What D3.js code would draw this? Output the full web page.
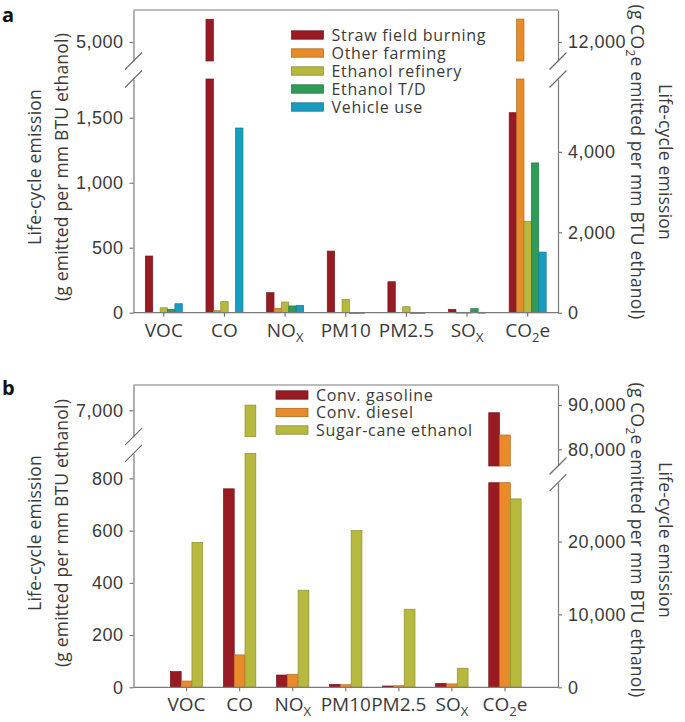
<!DOCTYPE html>
<html lang="en">
<head>
<meta charset="UTF-8">
<title>Life-cycle emissions</title>
<script src="https://d3js.org/d3.v7.min.js"></script>
<style>
    body {
        margin: 0;
        background: #fff;
    }
    svg {
        font-family: 'Open Sans', sans-serif;
        font-weight: 400;
    }
    .axis path, .axis line {
        stroke: #7a7a7a;
        stroke-width: 1.2px;
    }
    .axis text {
        font-size: 18px;
        fill: #3a3a3a;
        letter-spacing: 0.5px;
    }
    .title {
        font-size: 17.5px;
        fill: #3a3a3a;
        letter-spacing: 0.2px;
    }
    .legend text {
        font-size: 16px;
        fill: #3a3a3a;
        letter-spacing: 0.7px;
    }
</style>
</head>
<body>
<script>
// categories (subscript parts as separate pieces)
const categories = ["VOC", "CO", "NOX", "PM10", "PM2.5", "SOX", "CO2e"];
const categoryLabels = [["VOC"], ["CO"], ["NO", "X"], ["PM10"], ["PM2.5"], ["SO", "X"], ["CO", "2", "e"]];
const rightAxisCategory = "CO2e";

// panel a series
const seriesA = ["Straw field burning", "Other farming", "Ethanol refinery", "Ethanol T/D", "Vehicle use"];
const strawBurning    = [436, 5175, 154, 474, 238, 26, 4975];
const otherFarming    = [0, 15, 34, 0, 0, 3, 12570];
const ethanolRefinery = [38, 85, 82, 103, 46, 3, 2275];
const ethanolTD       = [26, 0, 52, 2, 2, 31, 3725];
const vehicleUse      = [69, 1421, 57, 2, 2, 3, 1508];

// panel b series
const seriesB = ["Conv. gasoline", "Conv. diesel", "Sugar-cane ethanol"];
const convGasoline = [60, 760, 47, 11, 5, 15, 88260];
const convDiesel   = [24, 124, 50, 10, 6, 13, 83230];
const sugarCane    = [555, 7020, 372, 600, 299, 73, 25850];

// tick values
const leftTicksA = [0, 500, 1000, 1500], leftTicksAUp = [5000];
const rightTicksA = [0, 2000, 4000], rightTicksAUp = [12000];
const leftTicksB = [0, 200, 400, 600, 800], leftTicksBUp = [7000];
const rightTicksB = [0, 10000, 20000], rightTicksBUp = [80000, 90000];

const colorsA = ["#981b24", "#e88b2b", "#b7b83e", "#2e9b58", "#1a9cc0"];
const colorsB = ["#981b24", "#e88b2b", "#b7b83e"];

const svg = d3.select("body").append("svg")
    .attr("width", 685)
    .attr("height", 722);

function fmt(d) { return d3.format(",")(d); }

function drawPanel(cfg) {
    const g = svg.append("g");
    const x = d3.scaleBand().domain(categories)
        .range([cfg.left, cfg.right]).paddingInner(0).paddingOuter(cfg.outer);
    const groupW = x.bandwidth() * 0.61;
    const xs = d3.scaleBand().domain(cfg.series).range([0, groupW]);

    const L = {
        lo: d3.scaleLinear().domain(cfg.leftLo).range([cfg.bottom, cfg.breakLo[0]]),
        up: d3.scaleLinear().domain(cfg.leftUp).range([cfg.breakUp[0], cfg.top])
    };
    const R = {
        lo: d3.scaleLinear().domain(cfg.rightLo).range([cfg.bottom, cfg.breakLo[1]]),
        up: d3.scaleLinear().domain(cfg.rightUp).range([cfg.breakUp[1], cfg.top])
    };

    // top frame line
    g.append("line")
        .attr("x1", cfg.left).attr("x2", cfg.right)
        .attr("y1", cfg.top).attr("y2", cfg.top)
        .attr("stroke", "#7a7a7a").attr("stroke-width", 1.2);

    // bars
    cfg.series.forEach((s, si) => {
        const vals = cfg.values[si];
        categories.forEach((c, ci) => {
            const v = vals[ci];
            if (!v) return;
            const sc = c === rightAxisCategory ? R : L;
            const bx = x(c) + (x.bandwidth() - groupW) / 2 + xs(s);
            const col = cfg.colors[si];
            const loMax = sc.lo.domain()[1];
            const parts = v <= loMax ? [[sc.lo, 0, v]] : [[sc.lo, 0, loMax], [sc.up, sc.up.domain()[0], v]];
            parts.forEach(p => {
                const y0 = p[0](p[1]), y1 = p[0](p[2]);
                g.append("rect")
                    .attr("x", bx).attr("width", xs.bandwidth())
                    .attr("y", y1).attr("height", Math.max(0.8, y0 - y1))
                    .attr("fill", col)
                    .attr("stroke", d3.color(col).darker(0.7))
                    .attr("stroke-width", 0.7);
            });
        });
    });

    // x axis
    const xa = g.append("g").attr("class", "axis")
        .attr("transform", `translate(0,${cfg.bottom})`)
        .call(d3.axisBottom(x).tickSize(4).tickSizeOuter(0).tickFormat(""));
    xa.select(".domain").attr("d", `M${cfg.left},0H${cfg.right}`);

    categories.forEach((c, i) => {
        const t = g.append("text")
            .attr("x", x(c) + x.bandwidth() / 2)
            .attr("y", cfg.bottom + 24)
            .attr("text-anchor", "middle")
            .attr("font-size", 19)
            .attr("fill", "#3a3a3a");
        categoryLabels[i].forEach((part, pi) => {
            const sub = (pi === 1 && categoryLabels[i].length > 1);
            const ts = t.append("tspan").text(part);
            if (sub) ts.attr("font-size", 13).attr("dy", 5);
            else if (pi === 2) ts.attr("dy", -5);
        });
    });

    // y axes (two segments each)
    [[L.lo, cfg.leftTicks], [L.up, cfg.leftTicksUp]].forEach(([sc, tv]) => {
        g.append("g").attr("class", "axis")
            .attr("transform", `translate(${cfg.left},0)`)
            .call(d3.axisLeft(sc).tickValues(tv).tickSize(4).tickSizeOuter(0).tickPadding(6).tickFormat(fmt));
    });
    [[R.lo, cfg.rightTicks], [R.up, cfg.rightTicksUp]].forEach(([sc, tv]) => {
        g.append("g").attr("class", "axis")
            .attr("transform", `translate(${cfg.right},0)`)
            .call(d3.axisRight(sc).tickValues(tv).tickSize(4).tickSizeOuter(0).tickPadding(6).tickFormat(fmt));
    });

    // break marks
    [[cfg.left, 0], [cfg.right, 1]].forEach(([ax, k]) => {
        [cfg.breakUp[k], cfg.breakLo[k]].forEach(by => {
            g.append("line")
                .attr("x1", ax - 8.5).attr("y1", by + 8.5)
                .attr("x2", ax + 8.5).attr("y2", by - 8.5)
                .attr("stroke", "#666").attr("stroke-width", 1.1);
        });
    });

    // legend
    const lg = g.append("g").attr("class", "legend");
    cfg.series.forEach((s, i) => {
        const cy = cfg.legendY + i * cfg.legendStep;
        lg.append("rect")
            .attr("x", cfg.legendX).attr("y", cy - 4.2)
            .attr("width", 32).attr("height", 8.4)
            .attr("fill", cfg.colors[i])
            .attr("stroke", d3.color(cfg.colors[i]).darker(1)).attr("stroke-width", 0.7);
        lg.append("text")
            .attr("x", cfg.legendX + 40).attr("y", cy)
            .attr("dy", "0.35em")
            .text(s);
    });

    // axis titles
    const lt = g.append("text").attr("class", "title")
        .attr("transform", `translate(35,${cfg.leftTitleY}) rotate(-90)`)
        .attr("text-anchor", "middle");
    lt.append("tspan").attr("x", 0).attr("dy", "0.35em").text("Life-cycle emission");
    lt.append("tspan").attr("x", 0).attr("dy", 26.5).text("(g emitted per mm BTU ethanol)");

    const rt = g.append("text").attr("class", "title")
        .attr("transform", `translate(665,${cfg.rightTitleY}) rotate(90)`)
        .attr("text-anchor", "middle");
    rt.append("tspan").attr("x", 0).attr("dy", "0.35em").text("Life-cycle emission");
    const l2 = rt.append("tspan").attr("x", 0).attr("dy", 28);
    l2.append("tspan").text("(g CO");
    l2.append("tspan").attr("font-size", 12).attr("dy", 5).text("2");
    l2.append("tspan").attr("dy", -5).text("e emitted per mm BTU ethanol)");

    // panel letter
    svg.append("text")
        .attr("x", 2).attr("y", cfg.top + cfg.letterDy)
        .attr("font-size", 20).attr("font-weight", 700)
        .attr("fill", "#111")
        .text(cfg.letter);
}

drawPanel({
    letter: "a", letterDy: 12,
    left: 133.5, right: 558, top: 10, bottom: 312.7, outer: 0,
    series: seriesA, colors: colorsA,
    values: [strawBurning, otherFarming, ethanolRefinery, ethanolTD, vehicleUse],
    leftLo: [0, 1798], leftUp: [4854, 5246],
    rightLo: [0, 5813], rightUp: [11527, 12796],
    breakLo: [79, 79], breakUp: [61, 61],
    leftTicks: leftTicksA, leftTicksUp: leftTicksAUp,
    rightTicks: rightTicksA, rightTicksUp: rightTicksAUp,
    legendX: 291.5, legendY: 35, legendStep: 18,
    leftTitleY: 167, rightTitleY: 162
});

drawPanel({
    letter: "b", letterDy: 10,
    left: 133.5, right: 558, top: 385, bottom: 687.3, outer: 0.5,
    series: seriesB, colors: colorsB,
    values: [convGasoline, convDiesel, sugarCane],
    leftLo: [0, 896], leftUp: [6899, 7097],
    rightLo: [0, 28066], rightUp: [76230, 94515],
    breakLo: [453.3, 482.7], breakUp: [436.7, 466],
    leftTicks: leftTicksB, leftTicksUp: leftTicksBUp,
    rightTicks: rightTicksB, rightTicksUp: rightTicksBUp,
    legendX: 276, legendY: 395, legendStep: 17.5,
    leftTitleY: 533, rightTitleY: 540
});
</script>
</body>
</html>
